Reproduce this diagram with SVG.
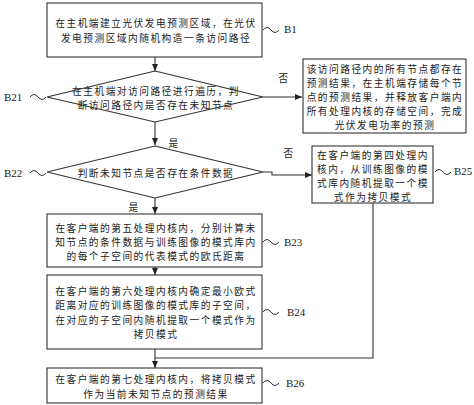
<svg xmlns="http://www.w3.org/2000/svg" width="474" height="405" viewBox="0 0 474 405">
<defs>
<style>
.box{fill:#fff;stroke:#333;stroke-width:1.1}
.t{font-family:"Noto Sans CJK SC","Liberation Serif",serif;font-size:9.7px;letter-spacing:1.5px;fill:#222;text-anchor:middle}
.lb{font-family:"Liberation Serif",serif;font-size:11px;fill:#222}
.ln{fill:none;stroke:#333;stroke-width:1.1}
.wv{fill:none;stroke:#333;stroke-width:1}
</style>
<marker id="ah" markerWidth="8" markerHeight="8" refX="7" refY="4" orient="auto" markerUnits="userSpaceOnUse">
<path d="M0,1 L7,4 L0,7 z" fill="#222"/>
</marker>
</defs>
<rect width="474" height="405" fill="#fff"/>
<g id="connectors">
<path class="ln" d="M155,57 V71" marker-end="url(#ah)"/>
<path class="ln" d="M263,97 H302" marker-end="url(#ah)"/>
<path class="ln" d="M155,122 V145" marker-end="url(#ah)"/>
<path class="ln" d="M263,172 H272 V175 H312" marker-end="url(#ah)"/>
<path class="ln" d="M155,198 V214" marker-end="url(#ah)"/>
<path class="ln" d="M155,267 V275" marker-end="url(#ah)"/>
<path class="ln" d="M155,349 V368" marker-end="url(#ah)"/>
<path class="ln" d="M373,203 V358 H155"/>
<text class="t" x="284" y="82">否</text>
<text class="t" x="289" y="157">否</text>
<text class="t" x="174" y="147">是</text>
<text class="t" x="134" y="211">是</text>
</g>
<g id="B1">
<rect class="box" x="47" y="3" width="215" height="54"/>
<text class="t" x="156" y="27">在主机端建立光伏发电预测区域，在光伏</text>
<text class="t" x="156" y="42">发电预测区域内随机构造一条访问路径</text>
<path class="wv" d="M263,30 q4,-5 8,0 t8,0"/>
<text class="lb" x="284" y="33">B1</text>
</g>
<g id="B21">
<polygon class="box" points="155,71 263,97 155,122 47,97"/>
<text class="t" x="156" y="95">在主机端对访问路径进行遍历，判</text>
<text class="t" x="156" y="109">断访问路径内是否存在未知节点</text>
<path class="wv" d="M30,97 q4,-5 8,0 t8,0"/>
<text class="lb" x="4" y="101">B21</text>
</g>
<g id="end">
<rect class="box" x="303" y="59" width="163" height="74"/>
<text class="t" x="385" y="73">该访问路径内的所有节点都存在</text>
<text class="t" x="385" y="87">预测结果，在主机端存储每个节</text>
<text class="t" x="385" y="101">点的预测结果，并释放客户端内</text>
<text class="t" x="385" y="115">所有处理内核的存储空间，完成</text>
<text class="t" x="385" y="129">光伏发电功率的预测</text>
</g>
<g id="B22">
<polygon class="box" points="155,146 263,172 155,198 47,172"/>
<text class="t" x="156" y="177">判断未知节点是否存在条件数据</text>
<path class="wv" d="M30,173 q4,-5 8,0 t8,0"/>
<text class="lb" x="4" y="177">B22</text>
</g>
<g id="B25">
<rect class="box" x="312" y="146" width="121" height="57"/>
<text class="t" x="373" y="159">在客户端的第四处理内</text>
<text class="t" x="373" y="173">核内，从训练图像的模</text>
<text class="t" x="373" y="187">式库内随机提取一个模</text>
<text class="t" x="373" y="201">式作为拷贝模式</text>
<path class="wv" d="M435,172 q4,-5 8,0 t8,0"/>
<text class="lb" x="454" y="175">B25</text>
</g>
<g id="B23">
<rect class="box" x="47" y="214" width="215" height="53"/>
<text class="t" x="156" y="232">在客户端的第五处理内核内，分别计算未</text>
<text class="t" x="156" y="246">知节点的条件数据与训练图像的模式库内</text>
<text class="t" x="156" y="260">的每个子空间的代表模式的欧氏距离</text>
<path class="wv" d="M263,242 q4,-5 8,0 t8,0"/>
<text class="lb" x="284" y="246">B23</text>
</g>
<g id="B24">
<rect class="box" x="47" y="275" width="215" height="74"/>
<text class="t" x="156" y="295">在客户端的第六处理内核内确定最小欧式</text>
<text class="t" x="156" y="309">距离对应的训练图像的模式库的子空间，</text>
<text class="t" x="156" y="324">在对应的子空间内随机提取一个模式作为</text>
<text class="t" x="156" y="338">拷贝模式</text>
<path class="wv" d="M263,312 q4,-5 8,0 t8,0"/>
<text class="lb" x="287" y="316">B24</text>
</g>
<g id="B26">
<rect class="box" x="47" y="368" width="215" height="35"/>
<text class="t" x="156" y="383">在客户端的第七处理内核内，将拷贝模式</text>
<text class="t" x="156" y="398">作为当前未知节点的预测结果</text>
<path class="wv" d="M263,383 q4,-5 8,0 t8,0"/>
<text class="lb" x="286" y="387">B26</text>
</g>
</svg>
